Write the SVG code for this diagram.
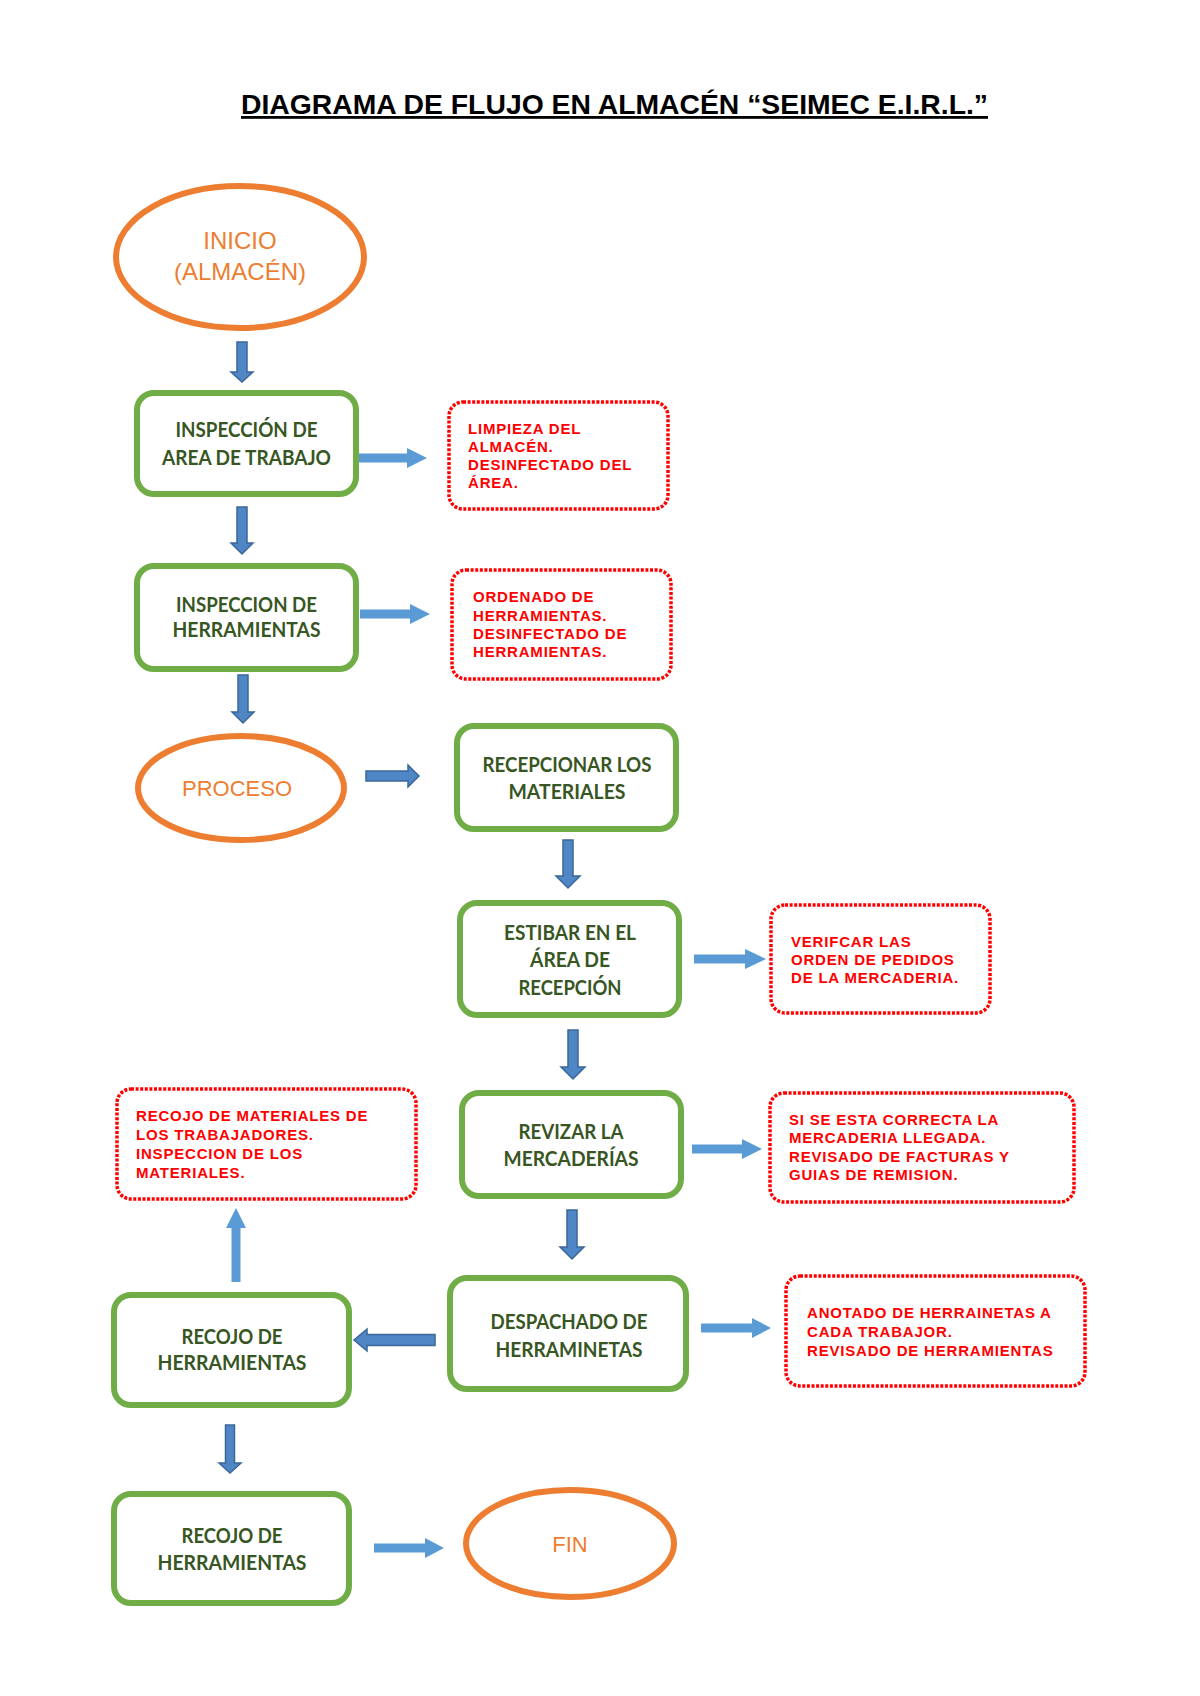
<svg xmlns="http://www.w3.org/2000/svg" width="1200" height="1696" viewBox="0 0 1200 1696">
<style>
.bg{fill:#ffffff}
.title{font-family:"Liberation Sans",Arial,sans-serif;font-weight:bold;font-size:28px;fill:#000;text-decoration:underline}
.oval{fill:#ffffff;stroke:#ED7D31;stroke-width:6}
.otxt{font-family:"Liberation Sans",Arial,sans-serif;fill:#ED7D31;text-anchor:middle}
.box{fill:#ffffff;stroke:#70AD47;stroke-width:6}
.btxt{font-family:Lato,"Open Sans",sans-serif;font-weight:bold;font-size:20px;fill:#375623;text-anchor:middle}
.note{fill:#ffffff;stroke:#FF0000;stroke-width:3.5;stroke-dasharray:3 1.6}
.ntxt{font-family:"Liberation Sans",Arial,sans-serif;font-weight:bold;font-size:15px;fill:#FF0000;letter-spacing:0.8px}
.al{fill:#5B9BD5;stroke:none}
.ad{fill:#4F86C6;stroke:#3A6797;stroke-width:1.5}
</style>
<rect class="bg" x="0" y="0" width="1200" height="1696"/>
<text class="title" x="241" y="114" textLength="747" lengthAdjust="spacingAndGlyphs">DIAGRAMA DE FLUJO EN ALMACÉN “SEIMEC E.I.R.L.”</text>

<g id="connectors">
  <polygon class="ad" points="237,342 247,342 247,372 253,372 242,382 231,372 237,372"/>
  <polygon class="al" points="358,453.5 407,453.5 407,448 427,458 407,468 407,462.5 358,462.5"/>
  <polygon class="ad" points="237,507 247,507 247,543 253,543 242,554 231,543 237,543"/>
  <polygon class="al" points="360,609.5 410,609.5 410,604 430,614 410,624 410,618.5 360,618.5"/>
  <polygon class="ad" points="238,675 248,675 248,712 254,712 243,723 232,712 238,712"/>
  <polygon class="ad" points="366,771 408,771 408,765 419,776 408,787 408,781 366,781"/>
  <polygon class="ad" points="563,840 573,840 573,876 580,876 568,888 556,876 563,876"/>
  <polygon class="al" points="694,954.5 745,954.5 745,949 766,959 745,969 745,963.5 694,963.5"/>
  <polygon class="ad" points="568,1030 578,1030 578,1067 585,1067 573,1079 561,1067 568,1067"/>
  <polygon class="al" points="692,1144.5 742,1144.5 742,1139 762,1149 742,1159 742,1153.5 692,1153.5"/>
  <polygon class="ad" points="567,1210 577,1210 577,1247 584,1247 572,1259 560,1247 567,1247"/>
  <polygon class="al" points="701,1323.5 752,1323.5 752,1318 771,1328 752,1338 752,1332.5 701,1332.5"/>
  <polygon class="ad" points="435,1334.5 367,1334.5 367,1329 354,1340 367,1351 367,1345.5 435,1345.5"/>
  <polygon class="al" points="231.5,1282 240.5,1282 240.5,1228 246,1228 236,1208 226,1228 231.5,1228"/>
  <polygon class="ad" points="225.5,1425 234.5,1425 234.5,1463 241,1463 230,1473 219,1463 225.5,1463"/>
  <polygon class="al" points="374,1543.5 425,1543.5 425,1538 444,1548 425,1558 425,1552.5 374,1552.5"/>
</g>

<g id="inicio">
  <ellipse class="oval" cx="240" cy="257" rx="124" ry="71"/>
  <text class="otxt" x="240" y="249" font-size="24">INICIO</text>
  <text class="otxt" x="240" y="280" font-size="24">(ALMACÉN)</text>
</g>

<g id="inspeccion-area">
  <rect class="box" x="137" y="393" width="219" height="101" rx="17"/>
  <text class="btxt" x="246.5" y="437" textLength="142" lengthAdjust="spacingAndGlyphs">INSPECCIÓN DE</text>
  <text class="btxt" x="246.5" y="465" textLength="169" lengthAdjust="spacingAndGlyphs">AREA DE TRABAJO</text>
</g>

<g id="nota-limpieza">
  <rect class="note" x="449" y="402" width="219" height="107" rx="14"/>
  <text class="ntxt" x="468" y="434">LIMPIEZA DEL</text>
  <text class="ntxt" x="468" y="452">ALMACÉN.</text>
  <text class="ntxt" x="468" y="470">DESINFECTADO DEL</text>
  <text class="ntxt" x="468" y="488">ÁREA.</text>
</g>

<g id="inspeccion-herramientas">
  <rect class="box" x="137" y="566" width="219" height="103" rx="17"/>
  <text class="btxt" x="246.5" y="612" textLength="141" lengthAdjust="spacingAndGlyphs">INSPECCION DE</text>
  <text class="btxt" x="246.5" y="637" textLength="148" lengthAdjust="spacingAndGlyphs">HERRAMIENTAS</text>
</g>

<g id="nota-ordenado">
  <rect class="note" x="452" y="570" width="219" height="109" rx="14"/>
  <text class="ntxt" x="473" y="602">ORDENADO DE</text>
  <text class="ntxt" x="473" y="621">HERRAMIENTAS.</text>
  <text class="ntxt" x="473" y="639">DESINFECTADO DE</text>
  <text class="ntxt" x="473" y="657">HERRAMIENTAS.</text>
</g>

<g id="proceso">
  <ellipse class="oval" cx="241" cy="788" rx="103" ry="52"/>
  <text class="otxt" x="237" y="796" font-size="22">PROCESO</text>
</g>

<g id="recepcionar">
  <rect class="box" x="457" y="726" width="219" height="103" rx="17"/>
  <text class="btxt" x="567" y="772" textLength="169" lengthAdjust="spacingAndGlyphs">RECEPCIONAR LOS</text>
  <text class="btxt" x="567" y="799" textLength="117" lengthAdjust="spacingAndGlyphs">MATERIALES</text>
</g>

<g id="estibar">
  <rect class="box" x="460" y="903" width="219" height="112" rx="17"/>
  <text class="btxt" x="570" y="940" textLength="132" lengthAdjust="spacingAndGlyphs">ESTIBAR EN EL</text>
  <text class="btxt" x="570" y="967" textLength="80" lengthAdjust="spacingAndGlyphs">ÁREA DE</text>
  <text class="btxt" x="570" y="995" textLength="103" lengthAdjust="spacingAndGlyphs">RECEPCIÓN</text>
</g>

<g id="nota-verificar">
  <rect class="note" x="771" y="905" width="219" height="108" rx="14"/>
  <text class="ntxt" x="791" y="947">VERIFCAR LAS</text>
  <text class="ntxt" x="791" y="965">ORDEN DE PEDIDOS</text>
  <text class="ntxt" x="791" y="983">DE LA MERCADERIA.</text>
</g>

<g id="revizar">
  <rect class="box" x="462" y="1093" width="219" height="103" rx="17"/>
  <text class="btxt" x="571" y="1139" textLength="105" lengthAdjust="spacingAndGlyphs">REVIZAR LA</text>
  <text class="btxt" x="571" y="1166" textLength="135" lengthAdjust="spacingAndGlyphs">MERCADERÍAS</text>
</g>

<g id="nota-correcta">
  <rect class="note" x="770" y="1093" width="304" height="109" rx="14"/>
  <text class="ntxt" x="789" y="1125">SI SE ESTA CORRECTA LA</text>
  <text class="ntxt" x="789" y="1143">MERCADERIA LLEGADA.</text>
  <text class="ntxt" x="789" y="1162">REVISADO DE FACTURAS Y</text>
  <text class="ntxt" x="789" y="1180">GUIAS DE REMISION.</text>
</g>

<g id="nota-recojo-materiales">
  <rect class="note" x="117" y="1089" width="299" height="110" rx="14"/>
  <text class="ntxt" x="136" y="1121">RECOJO DE MATERIALES DE</text>
  <text class="ntxt" x="136" y="1140">LOS TRABAJADORES.</text>
  <text class="ntxt" x="136" y="1159">INSPECCION DE LOS</text>
  <text class="ntxt" x="136" y="1178">MATERIALES.</text>
</g>

<g id="despachado">
  <rect class="box" x="450" y="1278" width="236" height="111" rx="17"/>
  <text class="btxt" x="569" y="1329" textLength="157" lengthAdjust="spacingAndGlyphs">DESPACHADO DE</text>
  <text class="btxt" x="569" y="1357" textLength="147" lengthAdjust="spacingAndGlyphs">HERRAMINETAS</text>
</g>

<g id="nota-anotado">
  <rect class="note" x="786" y="1276" width="299" height="110" rx="14"/>
  <text class="ntxt" x="807" y="1318">ANOTADO DE HERRAINETAS A</text>
  <text class="ntxt" x="807" y="1337">CADA TRABAJOR.</text>
  <text class="ntxt" x="807" y="1356">REVISADO DE HERRAMIENTAS</text>
</g>

<g id="recojo-1">
  <rect class="box" x="114" y="1295" width="235" height="110" rx="17"/>
  <text class="btxt" x="232" y="1344" textLength="101" lengthAdjust="spacingAndGlyphs">RECOJO DE</text>
  <text class="btxt" x="232" y="1370" textLength="149" lengthAdjust="spacingAndGlyphs">HERRAMIENTAS</text>
</g>

<g id="recojo-2">
  <rect class="box" x="114" y="1494" width="235" height="109" rx="17"/>
  <text class="btxt" x="232" y="1543" textLength="101" lengthAdjust="spacingAndGlyphs">RECOJO DE</text>
  <text class="btxt" x="232" y="1570" textLength="149" lengthAdjust="spacingAndGlyphs">HERRAMIENTAS</text>
</g>

<g id="fin">
  <ellipse class="oval" cx="570" cy="1543.5" rx="104" ry="53.5"/>
  <text class="otxt" x="570" y="1552" font-size="22">FIN</text>
</g>
</svg>
